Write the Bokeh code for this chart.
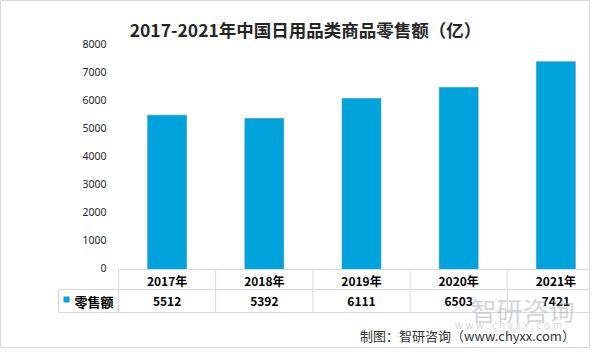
from bokeh.plotting import figure
from bokeh.models import Range1d, ColumnDataSource
from bokeh.core.properties import value
from bokeh.embed import file_html
from bokeh.resources import INLINE

years = ["2017年", "2018年", "2019年", "2020年", "2021年"]
sales = [5512, 5392, 6111, 6503, 7421]
y_ticks = [0, 1000, 2000, 3000, 4000, 5000, 6000, 7000, 8000]
title_text = "2017-2021年中国日用品类商品零售额（亿）"
series_name = "零售额"
source_text = "制图：智研咨询（www.chyxx.com）"
watermark = "智研咨询"
watermark_url = "w w w . c h y x x . c o m"

BLUE = "#00A3DC"
GRID = "#D9D9D9"
CJK = "Noto Sans CJK SC"

# pixel geometry (figure pixels)
W, H = 590, 348
LEFT = 118.0      # left edge of first category column
COL = 97.2        # column width in px
ZERO = 269.0      # y pixel of value 0
K = 0.028         # px per unit value


def X(px):
    return (px - LEFT) / COL


def Y(py):
    return (ZERO - py) / K


p = figure(width=W, height=H, output_backend="svg", toolbar_location=None,
           x_range=Range1d(X(0), X(W)), y_range=Range1d(Y(H), Y(0)),
           min_border=0)
p.outline_line_color = GRID
p.outline_line_width = 1
p.grid.visible = False
p.axis.visible = False

n = len(years)
xc = [i + 0.5 for i in range(n)]
src = ColumnDataSource(dict(x=xc, top=sales, years=years, vals=[str(v) for v in sales]))

# y tick labels
p.text(x=[X(106)] * len(y_ticks), y=y_ticks, text=[str(t) for t in y_ticks],
       text_align="right", text_baseline="middle", y_offset=-1.5,
       text_font=value("Noto Sans"), text_font_size="10.5px", text_color="#262626")

# bars
p.vbar(x="x", top="top", bottom=0, width=0.4, source=src, fill_color=BLUE,
       line_color="#3a8db3", line_width=0.6)

# data table
right = X(W)
p.segment(x0=[0, X(58), X(58)], x1=[right] * 3,
          y0=[0, Y(289), Y(312)], y1=[0, Y(289), Y(312)],
          line_color=GRID, line_width=1)
p.segment(x0=[X(58)] + list(range(n)), x1=[X(58)] + list(range(n)),
          y0=[Y(289)] + [0] * n, y1=[Y(312)] * (n + 1),
          line_color=GRID, line_width=1)
p.text(x="x", y=Y(279.5), text="years", source=src, text_align="center", text_baseline="middle",
       text_font=value(CJK), text_font_style="bold", text_font_size="12px", text_color="#000000")
p.text(x="x", y=Y(301), text="vals", source=src, text_align="center", text_baseline="middle",
       text_font=value(CJK), text_font_style="bold", text_font_size="12px", text_color="#000000")

# legend cell
p.scatter(x=[X(66)], y=[Y(299)], marker="square", size=6, fill_color=BLUE, line_color=None)
p.text(x=[X(74)], y=[Y(300.5)], text=[series_name], text_align="left", text_baseline="middle",
       text_font=value(CJK), text_font_style="bold", text_font_size="13px", text_color="#000000")

# title
p.text(x=[X(305)], y=[Y(29)], text=[title_text], text_align="center", text_baseline="middle",
       text_font=value(CJK), text_font_style="bold", text_font_size="17.5px", text_color="#262626")

# watermark
p.text(x=[X(522)], y=[Y(309)], text=[watermark], text_align="center", text_baseline="middle",
       text_font=value(CJK), text_font_size="26px", text_color="#9aa3ad", text_alpha=0.45)
p.text(x=[X(508)], y=[Y(324)], text=[watermark_url], text_align="center", text_baseline="middle",
       text_font=value("Noto Sans"), text_font_size="10px", text_color="#9aa3ad", text_alpha=0.45)

# source
p.text(x=[X(467)], y=[Y(335)], text=[source_text], text_align="center", text_baseline="middle",
       text_font=value(CJK), text_font_size="13px", text_color="#333333")

open("out.html", "w").write(file_html(p, INLINE))
